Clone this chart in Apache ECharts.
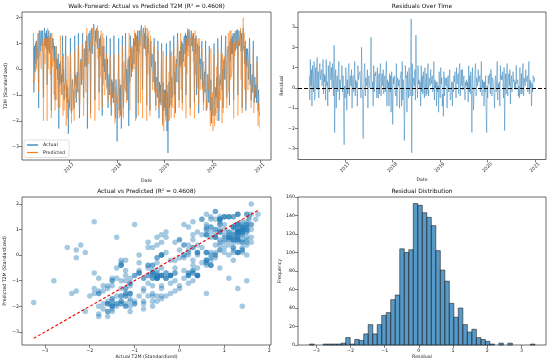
<!DOCTYPE html>
<html><head><meta charset="utf-8">
<script src="https://cdn.jsdelivr.net/npm/echarts@6/dist/echarts.min.js"></script>
<style>html,body{margin:0;padding:0;background:#fff}#c{width:550px;height:363px}</style>
</head><body><div id="c"></div>
<script>
// ---- data ----
const startDate = '2016-04-01';
const endDate = '2020-12-31';
const actual = [
1.4,-0.9,0.9,-0.1,1.0,0.2,1.1,0.4,
0.6,1.4,-1.5,1.1,1.5,0.7,1.4,
1.5,0.9,1.5,0.6,-1.1,1.3,1.6,0.9,
1.4,0.8,1.5,-0.6,1.3,0.7,1.5,
1.3,0.6,1.2,1.4,-1.6,0.5,1.2,0.8,
1.0,0.3,0.9,-1.2,0.6,0.9,0.0,
0.4,-0.4,0.6,-2.3,0.2,-0.6,0.3,-0.5,
-0.2,-1.0,1.3,-0.5,0.0,-1.2,-0.6,
-0.5,1.3,-1.1,-0.6,-1.3,-0.7,-2.5,-1.2,
-1.5,-0.6,1.2,-1.3,-1.7,-0.7,-0.4,
-0.4,-1.2,-1.5,1.3,-0.6,-0.2,-1.3,-0.4,
-0.1,-0.9,1.4,0.2,-1.9,-0.7,0.3,
0.4,-0.6,0.7,1.4,-0.3,-1.1,0.8,0.1,
0.3,1.1,0.1,1.3,-2.3,0.5,1.2,
1.4,0.7,1.5,-1.7,1.2,1.6,0.6,1.3,
1.5,1.75,1.0,-1.2,1.5,1.1,1.6,
1.3,0.8,1.5,0.6,-0.9,1.2,0.5,1.3,
1.0,0.3,-1.8,0.9,0.1,0.9,-0.1,
0.4,-0.4,0.3,1.3,-0.7,0.4,-1.5,-0.5,
-0.2,-1.0,1.2,-0.1,-1.8,-0.4,-1.1,
-0.5,-1.3,1.3,-0.6,-1.5,-1.9,-0.4,-1.2,
-2.8,-1.4,-0.5,1.2,-1.6,-0.7,-1.8,
-0.6,-2.3,-1.3,1.3,-0.4,-1.5,-0.7,-0.3,
-0.2,1.4,-0.9,0.0,-1.2,-0.1,0.4,
-2.2,0.5,-0.5,1.3,0.7,-0.3,0.8,0.0,
0.4,1.2,0.2,1.1,0.9,1.4,-1.9,
1.3,0.7,1.5,-1.3,1.2,1.5,0.9,1.3,
1.6,1.7,1.0,-0.8,1.5,1.6,0.8,
1.4,0.8,1.6,0.7,-1.4,1.3,0.6,1.2,
1.0,0.2,-1.6,0.9,1.1,0.1,0.6,
0.4,-0.5,0.6,1.2,-0.8,0.3,-1.4,-0.4,
-0.3,-1.1,1.1,-0.2,-1.9,-0.5,-1.3,
-0.6,-1.4,1.0,-0.7,-2.1,-0.5,-1.6,-0.8,
-1.5,-0.8,-1.8,1.0,-2.4,-0.9,-3.25,
-1.2,-0.5,-1.5,1.1,-0.6,-1.4,-0.3,-1.1,
-0.8,0.0,1.3,-1.0,-0.1,-1.7,0.2,
0.4,-0.5,1.4,0.6,-0.3,-1.2,0.7,0.1,
0.9,0.2,1.1,-1.3,1.0,0.3,1.2,
1.3,0.6,1.4,-1.0,1.3,0.7,1.5,0.9,
1.4,1.55,0.8,-1.5,1.3,1.5,0.9,
1.3,0.7,1.4,0.8,-1.3,1.2,0.6,1.3,
-1.0,0.3,1.0,0.1,-1.7,0.9,0.2,
0.4,-0.4,0.6,1.1,-0.7,0.3,-1.3,-0.5,
-0.1,-0.9,1.1,-0.3,-1.6,-1.1,-0.2,
-0.5,-1.3,0.9,-1.2,-1.6,-0.4,-2.1,-1.1,
-1.4,-1.8,-0.6,1.0,-1.5,-1.8,-0.7,
-1.1,-0.3,-1.5,1.2,-0.5,-2.0,-1.2,-0.4,
-0.6,0.2,1.3,-0.8,0.0,-1.5,0.3,
0.4,-0.4,0.7,1.3,-0.2,-1.1,0.6,0.8,
0.9,0.1,-1.4,1.1,0.3,1.2,0.6,
1.3,0.6,1.4,-1.2,1.2,1.4,0.7,1.4,
1.5,0.8,1.55,-1.0,1.4,1.5,0.9,
1.3,1.5,0.7,1.4,-1.5,1.2,1.6,0.8,
0.9,0.2,1.1,-1.6,0.8,0.1,0.8,
0.4,-0.4,0.6,1.2,-0.6,0.2,-1.2,-0.5,
-0.2,-0.9,1.1,-0.4,-1.3,-0.3,-1.1,
-0.6,-1.3,0.5,-0.5,-1.6,-0.8,-1.6,-1.8
];
const predicted = [
0.8,-0.3,-0.5,-0.2,0.1,1.1,0.0,0.0,
0.8,0.1,-0.9,1.5,0.5,0.7,0.2,
0.0,1.0,0.7,1.1,-2.0,0.1,1.2,0.2,
0.5,0.7,1.2,-2.0,1.6,0.0,1.2,
0.7,1.2,-0.2,1.3,-1.9,1.4,0.1,0.4,
1.2,-1.0,0.4,-1.6,-0.4,0.9,-1.2,
-0.8,0.0,-1.5,-0.1,0.1,-1.5,1.3,-0.9,
-0.8,-0.8,0.5,-1.8,0.6,-1.6,-0.6,
-0.8,0.6,-2.2,-0.4,-1.9,0.5,0.3,-1.3,
-1.0,-1.6,0.6,-0.2,-2.1,-0.4,-1.3,
-1.6,-0.8,-2.0,0.7,-0.7,-1.1,-0.3,-0.8,
-0.7,-0.7,0.9,-1.1,-1.5,-1.1,0.3,
0.1,0.3,-0.4,1.0,-0.9,-1.8,0.0,0.0,
0.8,-0.9,-0.1,1.6,0.2,0.8,0.3,
0.2,1.1,1.0,-1.9,1.1,0.7,1.6,0.9,
0.9,1.6,1.0,-2.0,-1.0,0.7,1.6,
1.0,1.7,0.4,0.8,-1.6,0.6,-0.3,1.2,
1.5,-0.7,-1.5,1.4,-0.6,1.2,-1.0,
-0.8,0.0,-0.2,0.6,-0.8,-0.5,-1.2,-0.9,
-0.8,-0.8,0.5,-1.4,-0.9,-0.8,-1.1,
-0.8,-0.4,0.6,-0.4,-2.1,-0.7,-1.2,-1.3,
-1.0,-1.9,-0.7,0.6,-1.9,-0.4,-1.4,
-1.8,-1.4,-1.8,0.9,-0.5,-1.9,0.3,-0.7,
-0.8,0.6,0.0,-1.3,-0.6,-0.5,0.4,
0.4,1.4,-1.6,0.8,0.1,0.9,0.0,-0.1,
0.9,0.2,0.0,1.5,0.2,-2.0,1.3,
0.1,1.1,1.0,-1.8,1.1,0.6,1.5,-1.3,
1.0,1.4,1.5,-1.9,1.3,1.2,0.8,
1.1,1.7,0.5,0.9,-2.0,1.6,-0.2,1.1,
1.5,-0.8,-1.8,1.3,0.4,0.4,-0.3,
-0.8,-0.1,0.1,0.9,-0.9,-0.6,-1.6,-0.8,
-0.9,-0.9,0.7,-1.5,-1.3,-0.9,-1.3,
-0.9,-0.5,0.7,-0.5,-2.2,0.7,-2.4,-0.9,
-1.0,-1.8,-2.0,0.5,-1.5,-0.6,-1.85,
-2.0,-0.1,-2.0,0.6,-0.7,-1.9,0.7,-1.5,
-1.4,0.2,0.8,-1.9,0.5,-1.2,0.2,
0.1,0.4,1.1,0.8,-0.9,-1.5,-0.1,0.0,
1.4,-0.8,0.9,-1.6,0.3,0.6,0.3,
0.1,1.0,0.9,-1.9,1.2,-0.2,1.6,0.5,
0.8,1.5,1.4,-1.8,1.2,1.1,0.9,
1.0,1.4,0.3,1.0,-1.9,1.5,-0.2,1.2,
1.2,-0.7,0.8,1.2,-1.4,1.2,-0.7,
-0.8,0.0,0.1,0.8,-0.8,-0.6,-1.6,-0.9,
-0.7,-0.7,0.6,-1.6,-1.2,-1.5,-0.2,
-0.8,-0.4,0.6,-1.0,-2.2,0.8,0.1,-1.2,
-0.9,-2.4,-0.8,0.6,-2.2,-1.5,-1.6,
-1.7,0.1,-2.0,0.8,-0.6,-1.6,-0.2,-0.8,
-1.2,0.4,0.9,-2.1,0.6,-1.7,0.3,
0.1,0.5,-0.4,0.9,-0.8,-1.5,-0.2,0.7,
1.4,-0.9,0.7,1.5,-0.4,1.5,-0.3,
0.1,1.0,0.9,-1.9,1.1,0.5,1.5,1.0,
0.9,1.0,1.4,-1.8,1.1,1.1,0.9,
1.0,1.6,-0.4,1.2,-1.7,0.8,2.0,0.7,
1.4,-0.8,0.9,-1.3,0.1,0.4,-0.1,
-0.8,0.0,0.1,0.7,-0.7,-0.7,-1.5,-0.9,
-0.8,-0.7,0.7,-1.7,-1.0,-0.7,-1.1,
-0.9,-0.4,0.3,-0.3,-2.2,-1.3,-1.9,-2.3
];
const histBinStart = -3.194;
const histBinWidth = 0.1318;
const histCounts = [1,0,0,1,1,1,1,2,8,1, 6,5,12,22,12,22,32,35,49,54,
  104,100,103,153,151,143,138,129,102,81, 69,45,30,40,22,14,17,8,6,4,
  1,0,2,0,2,0,0,0,0,1];
const r2Text = '0.4608';

// ---- derived ----
const FONT = 'DejaVu Sans';
const t0 = Date.parse(startDate), t1 = Date.parse(endDate);
const n = Math.min(actual.length, predicted.length);
const stepMs = (t1 - t0) / (n - 1);
const dates = [];
for (let i = 0; i < n; i++) dates.push(t0 + i * stepMs);
const residuals = dates.map((d, i) => +(actual[i] - predicted[i]).toFixed(3));
const minA = Math.min(...actual), maxA = Math.max(...actual);

const TICK = 4.7, LAB = 4.7, TITLE = 5.9;
const txt = '#222';
const minus = v => String(v).replace('-', '\u2212');

function grid(l, t, w, h) {
  return {left: l, top: t, width: w, height: h, show: true, borderColor: '#444', borderWidth: 0.8, backgroundColor: 'transparent', containLabel: false};
}
function valAxis(gi, min, max, name, gap, extra) {
  return Object.assign({
    gridIndex: gi, type: 'value', min: min, max: max, splitNumber: 6,
    axisLine: {show: false, onZero: false}, splitLine: {show: false},
    axisTick: {show: true, length: 3, lineStyle: {color: '#333', width: 0.6}},
    axisLabel: {fontSize: TICK, color: txt, fontFamily: FONT, margin: 3, formatter: minus, showMinLabel: false, showMaxLabel: false},
    name: name, nameLocation: 'middle', nameGap: gap,
    nameTextStyle: {fontSize: LAB, color: txt, fontFamily: FONT}
  }, extra || {});
}
function timeAxis(gi) {
  return {
    gridIndex: gi, type: 'time', min: Date.parse('2016-01-05'), max: Date.parse('2021-03-28'),
    splitNumber: 5, minInterval: 365 * 86400000,
    axisLine: {show: false, onZero: false}, splitLine: {show: false},
    axisTick: {show: true, length: 3, lineStyle: {color: '#333', width: 0.6}},
    axisLabel: {fontSize: TICK, color: txt, fontFamily: FONT, rotate: 45, align: 'center', verticalAlign: 'middle', margin: 8,
      formatter: v => String(new Date(v).getUTCFullYear())},
    name: 'Date', nameLocation: 'middle', nameGap: 18,
    nameTextStyle: {fontSize: LAB, color: txt, fontFamily: FONT}
  };
}
const titleStyle = {fontSize: TITLE, fontWeight: 'normal', color: '#111', fontFamily: FONT};

const chart = echarts.init(document.getElementById('c'), null, {renderer: 'canvas'});
chart.setOption({
  animation: false,
  backgroundColor: '#fff',
  title: [
    {text: 'Walk-Forward: Actual vs Predicted T2M (R\u00b2 = ' + r2Text + ')', left: 146.5, top: 3, textAlign: 'center', padding: 0, textStyle: titleStyle},
    {text: 'Residuals Over Time', left: 422, top: 3, textAlign: 'center', padding: 0, textStyle: titleStyle},
    {text: 'Actual vs Predicted (R\u00b2 = ' + r2Text + ')', left: 146.5, top: 188, textAlign: 'center', padding: 0, textStyle: titleStyle},
    {text: 'Residual Distribution', left: 422, top: 188, textAlign: 'center', padding: 0, textStyle: titleStyle}
  ],
  legend: {
    data: ['Actual', 'Predicted'], orient: 'vertical', left: 24, top: 140,
    icon: 'rect', itemWidth: 11, itemHeight: 1.2, itemGap: 2.5,
    padding: [2.5, 4, 2.5, 3], backgroundColor: 'rgba(255,255,255,0.85)',
    borderColor: '#ccc', borderWidth: 0.6, borderRadius: 2,
    textStyle: {fontSize: LAB, color: txt, fontFamily: FONT}
  },
  grid: [grid(22, 12, 249, 148), grid(298, 12, 248, 147.5), grid(22, 197, 249, 148), grid(298, 197, 248, 148)],
  xAxis: [
    timeAxis(0), timeAxis(1),
    valAxis(2, -3.51, 2.04, 'Actual T2M (Standardized)', 8, {}),
    valAxis(3, -3.535, 3.72, 'Residual', 8, {})
  ],
  yAxis: [
    valAxis(0, -3.52, 2.22, 'T2M (Standardized)', 12.5),
    valAxis(1, -3.53, 3.74, 'Residual', 12.5),
    valAxis(2, -3.51, 2.27, 'Predicted T2M (Standardized)', 14.5),
    valAxis(3, 0, 160, 'Frequency', 14.5, {interval: 20, axisLabel: {fontSize: TICK, color: txt, fontFamily: FONT, margin: 3}})
  ],
  series: [
    {name: 'Actual', type: 'line', xAxisIndex: 0, yAxisIndex: 0, data: dates.map((d, i) => [d, actual[i]]),
      showSymbol: false, symbol: 'none', lineStyle: {color: '#1f77b4', width: 0.8, opacity: 0.7}, itemStyle: {color: '#1f77b4'}},
    {name: 'Predicted', type: 'line', xAxisIndex: 0, yAxisIndex: 0, data: dates.map((d, i) => [d, predicted[i]]),
      showSymbol: false, symbol: 'none', lineStyle: {color: '#ff7f0e', width: 0.8, opacity: 0.6}, itemStyle: {color: '#ff7f0e'}},
    {name: 'Residual', type: 'line', xAxisIndex: 1, yAxisIndex: 1, data: dates.map((d, i) => [d, residuals[i]]),
      showSymbol: false, symbol: 'none', lineStyle: {color: '#1f77b4', width: 0.75, opacity: 0.6},
      markLine: {silent: true, symbol: ['none', 'none'], label: {show: false}, data: [{yAxis: 0}],
        lineStyle: {color: '#000', type: [4, 2], width: 1.1}}},
    {name: 'Scatter', type: 'scatter', xAxisIndex: 2, yAxisIndex: 2, data: actual.slice(0, n).map((a, i) => [a, predicted[i]]),
      symbolSize: 5.5, itemStyle: {color: 'rgba(31,119,180,0.5)'}},
    {name: 'Ideal', type: 'line', xAxisIndex: 2, yAxisIndex: 2, data: [[minA, minA], [maxA, maxA]],
      showSymbol: false, symbol: 'none', lineStyle: {color: '#e00', type: [3, 2], width: 1.1}},
    {name: 'Hist', type: 'custom', xAxisIndex: 3, yAxisIndex: 3,
      data: histCounts.map((c, i) => [histBinStart + i * histBinWidth, histBinStart + (i + 1) * histBinWidth, c]),
      encode: {x: [0, 1], y: 2},
      renderItem: function (params, api) {
        const c = api.value(2);
        if (!c) return null;
        const p0 = api.coord([api.value(0), c]);
        const p1 = api.coord([api.value(1), 0]);
        return {type: 'rect', shape: {x: p0[0], y: p0[1], width: p1[0] - p0[0], height: p1[1] - p0[1]},
          style: {fill: 'rgba(31,119,180,0.75)', stroke: '#222', lineWidth: 0.6}};
      }}
  ]
});
</script></body></html>
